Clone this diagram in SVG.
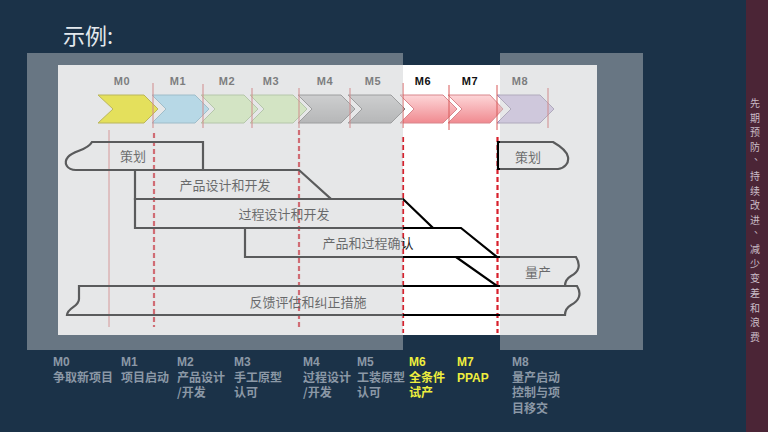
<svg xmlns="http://www.w3.org/2000/svg" width="768" height="432" viewBox="0 0 768 432">
<defs>
<linearGradient id="gPink" x1="0" y1="0" x2="0" y2="1"><stop offset="0" stop-color="#fdd6d8"/><stop offset="1" stop-color="#f08a90"/></linearGradient>
<linearGradient id="gGray" x1="0" y1="0" x2="0" y2="1"><stop offset="0" stop-color="#d2d2d2"/><stop offset="1" stop-color="#a8a8a8"/></linearGradient>
<style>
.cjk{font-family:"Noto Sans CJK SC","Noto Sans",sans-serif}
.ml{font-family:"Liberation Sans",Arial,sans-serif;font-weight:bold;font-size:11px;text-anchor:middle;fill:#3e3e3e;letter-spacing:0.5px}
.ml.on{fill:#111}
.bar{fill:none;stroke:#000;stroke-width:2.2;stroke-linejoin:miter}
.bl{font-size:13px;text-anchor:middle;fill:#1a1a1a}
.chev{stroke-width:1}
.dash{stroke:#d8202c;stroke-width:2.2;stroke-dasharray:5 3;fill:none}
.tick{stroke:#d85858;stroke-width:1;fill:none}
.ov{fill:#c8cacd;fill-opacity:0.45}
.lab{font-family:"Liberation Sans","Noto Sans CJK SC",sans-serif;font-weight:bold;font-size:12px;fill:#8b98a6}
.lab.y{fill:#eeee3e}
.side{font-size:10px;fill:#c9bcc6;text-anchor:middle}
</style>
</defs>
<rect x="0" y="0" width="768" height="432" fill="#1b3248"/>
<rect x="746" y="0" width="22" height="432" fill="#4b2536"/>
<text x="63" y="44" class="cjk" font-size="22" fill="#e4e9ee">示例:</text>

<rect x="58" y="65" width="539" height="270" fill="#ffffff"/>

<g id="milestone-labels">
<text class="ml" x="122" y="85">M0</text>
<text class="ml" x="178" y="85">M1</text>
<text class="ml" x="227" y="85">M2</text>
<text class="ml" x="271" y="85">M3</text>
<text class="ml" x="325" y="85">M4</text>
<text class="ml" x="373" y="85">M5</text>
<text class="ml on" x="423" y="85">M6</text>
<text class="ml on" x="470" y="85">M7</text>
<text class="ml" x="520" y="85">M8</text>
</g>

<g id="chevrons">
<polygon id="chev-M0" class="chev" points="98,95 144,95 158,109 144,123 98,123 113,109" fill="#fbf300" stroke="#b0a600"/>
<polygon id="chev-M1" class="chev" points="152,95 195,95 209,109 195,123 152,123 166,109" fill="#a9e4fb" stroke="#7fb2c6"/>
<polygon id="chev-M2" class="chev" points="201,95 244,95 258,109 244,123 201,123 215,109" fill="#dcfabe" stroke="#a6c490"/>
<polygon id="chev-M3" class="chev" points="250,95 293,95 307,109 293,123 250,123 264,109" fill="#dcfabe" stroke="#a6c490"/>
<polygon id="chev-M4" class="chev" points="298,95 341,95 355,109 341,123 298,123 312,109" fill="url(#gGray)" stroke="#7a7a7a"/>
<polygon id="chev-M5" class="chev" points="348,95 391,95 405,109 391,123 348,123 362,109" fill="url(#gGray)" stroke="#7a7a7a"/>
<polygon id="chev-M6" class="chev" points="400,95 443,95 457,109 443,123 400,123 414,109" fill="url(#gPink)" stroke="#d8868c"/>
<polygon id="chev-M7" class="chev" points="448,95 490,95 503,109 490,123 448,123 462,109" fill="url(#gPink)" stroke="#d8868c"/>
<polygon id="chev-M8" class="chev" points="497,95 540,95 554,109 540,123 497,123 511,109" fill="#d6c6ea" stroke="#9d90b0"/>
</g>

<g id="connectors">
<line class="tick" x1="153" y1="83" x2="153" y2="128"/>
<line class="tick" x1="203" y1="84" x2="203" y2="128"/>
<line class="tick" x1="252" y1="88" x2="252" y2="128"/>
<line class="tick" x1="299" y1="88" x2="299" y2="128"/>
<line class="tick" x1="350" y1="88" x2="350" y2="128"/>
<line class="tick" x1="403" y1="83" x2="403" y2="128"/>
<line class="tick" x1="449" y1="85" x2="449" y2="130"/>
<line class="tick" x1="497" y1="85" x2="497" y2="130"/>
<line class="tick" x1="548" y1="88" x2="548" y2="128"/>
<line x1="109" y1="130" x2="109" y2="327" stroke="#e07070" stroke-width="1"/>
<line class="dash" x1="154" y1="133" x2="154" y2="327"/>
<line class="dash" x1="299" y1="130" x2="299" y2="327"/>
<line class="dash" x1="403" y1="137" x2="403" y2="333" stroke-width="2.6"/>
<line class="dash" x1="497.5" y1="137" x2="497.5" y2="333" stroke-width="2.6"/>
</g>

<g id="phase-plan-1">
<path class="bar" d="M203,142 H92 C87,151 74,150 68,157 C63,163 67,170 76,170 H203 Z"/>
<text class="cjk bl" x="133" y="160.5">策划</text>
</g>
<g id="phase-product-design">
<path class="bar" d="M135,170 H299 L331,199 H135 Z"/>
<text class="cjk bl" x="225" y="189.5">产品设计和开发</text>
</g>
<g id="phase-process-design">
<path class="bar" d="M135,199 H403 L433,228 H135 Z"/>
<text class="cjk bl" x="284" y="218.5">过程设计和开发</text>
</g>
<g id="phase-validation">
<path class="bar" d="M245,228 H461 L497,257 H245 Z"/>
<text class="cjk bl" x="368" y="247.5">产品和过程确认</text>
</g>
<g id="phase-production">
<path class="bar" d="M456,257 H576 C581,265 579,272 571,276 C566,279 565,283 565,286 H497 Z"/>
<text class="cjk bl" x="538" y="276.5">量产</text>
</g>
<g id="phase-feedback">
<path class="bar" d="M79,286 H577 C582,294 579,301 571,305 C566,308 565,312 565,315 H67 C68,307 79,307 79,299 Z"/>
<text class="cjk bl" x="308" y="306.5">反馈评估和纠正措施</text>
</g>
<g id="phase-plan-2">
<path class="bar" d="M498,142 H553 C560,146 567,151 568,157 C569,163 565,168 558,169 H498 Z"/>
<text class="cjk bl" x="528" y="161.5">策划</text>
</g>

<g id="overlays">
<rect class="ov" x="27" y="53" width="376" height="297"/>
<rect class="ov" x="500" y="53" width="143" height="297"/>
</g>

<g id="bottom-labels">
<text class="lab" x="53" y="366">M0<tspan class="cjk" x="53" y="381.5">争取新项目</tspan></text>
<text class="lab" x="121" y="366">M1<tspan class="cjk" x="121" y="381.5">项目启动</tspan></text>
<text class="lab" x="177" y="366">M2<tspan class="cjk" x="177" y="381.5">产品设计</tspan><tspan class="cjk" x="177" y="397">/开发</tspan></text>
<text class="lab" x="234" y="366">M3<tspan class="cjk" x="234" y="381.5">手工原型</tspan><tspan class="cjk" x="234" y="397">认可</tspan></text>
<text class="lab" x="303" y="366">M4<tspan class="cjk" x="303" y="381.5">过程设计</tspan><tspan class="cjk" x="303" y="397">/开发</tspan></text>
<text class="lab" x="357" y="366">M5<tspan class="cjk" x="357" y="381.5">工装原型</tspan><tspan class="cjk" x="357" y="397">认可</tspan></text>
<text class="lab y" x="409" y="366">M6<tspan class="cjk" x="409" y="381.5">全条件</tspan><tspan class="cjk" x="409" y="397">试产</tspan></text>
<text class="lab y" x="457" y="366">M7<tspan x="457" y="381.5">PPAP</tspan></text>
<text class="lab" x="512" y="366">M8<tspan class="cjk" x="512" y="381.5">量产启动</tspan><tspan class="cjk" x="512" y="397">控制与项</tspan><tspan class="cjk" x="512" y="412.5">目移交</tspan></text>
</g>

<g id="sidebar-text">
<text class="cjk side" x="755 755 755 755 759 755 755 755 755 759 755 755 755 755 755 755 755" y="107 121.6 136.2 150.8 160 180 194.6 209.2 223.8 233 253.2 267.8 282.4 297 311.6 326.2 340.8">先期预防、持续改进、减少变差和浪费</text>
</g>
</svg>
